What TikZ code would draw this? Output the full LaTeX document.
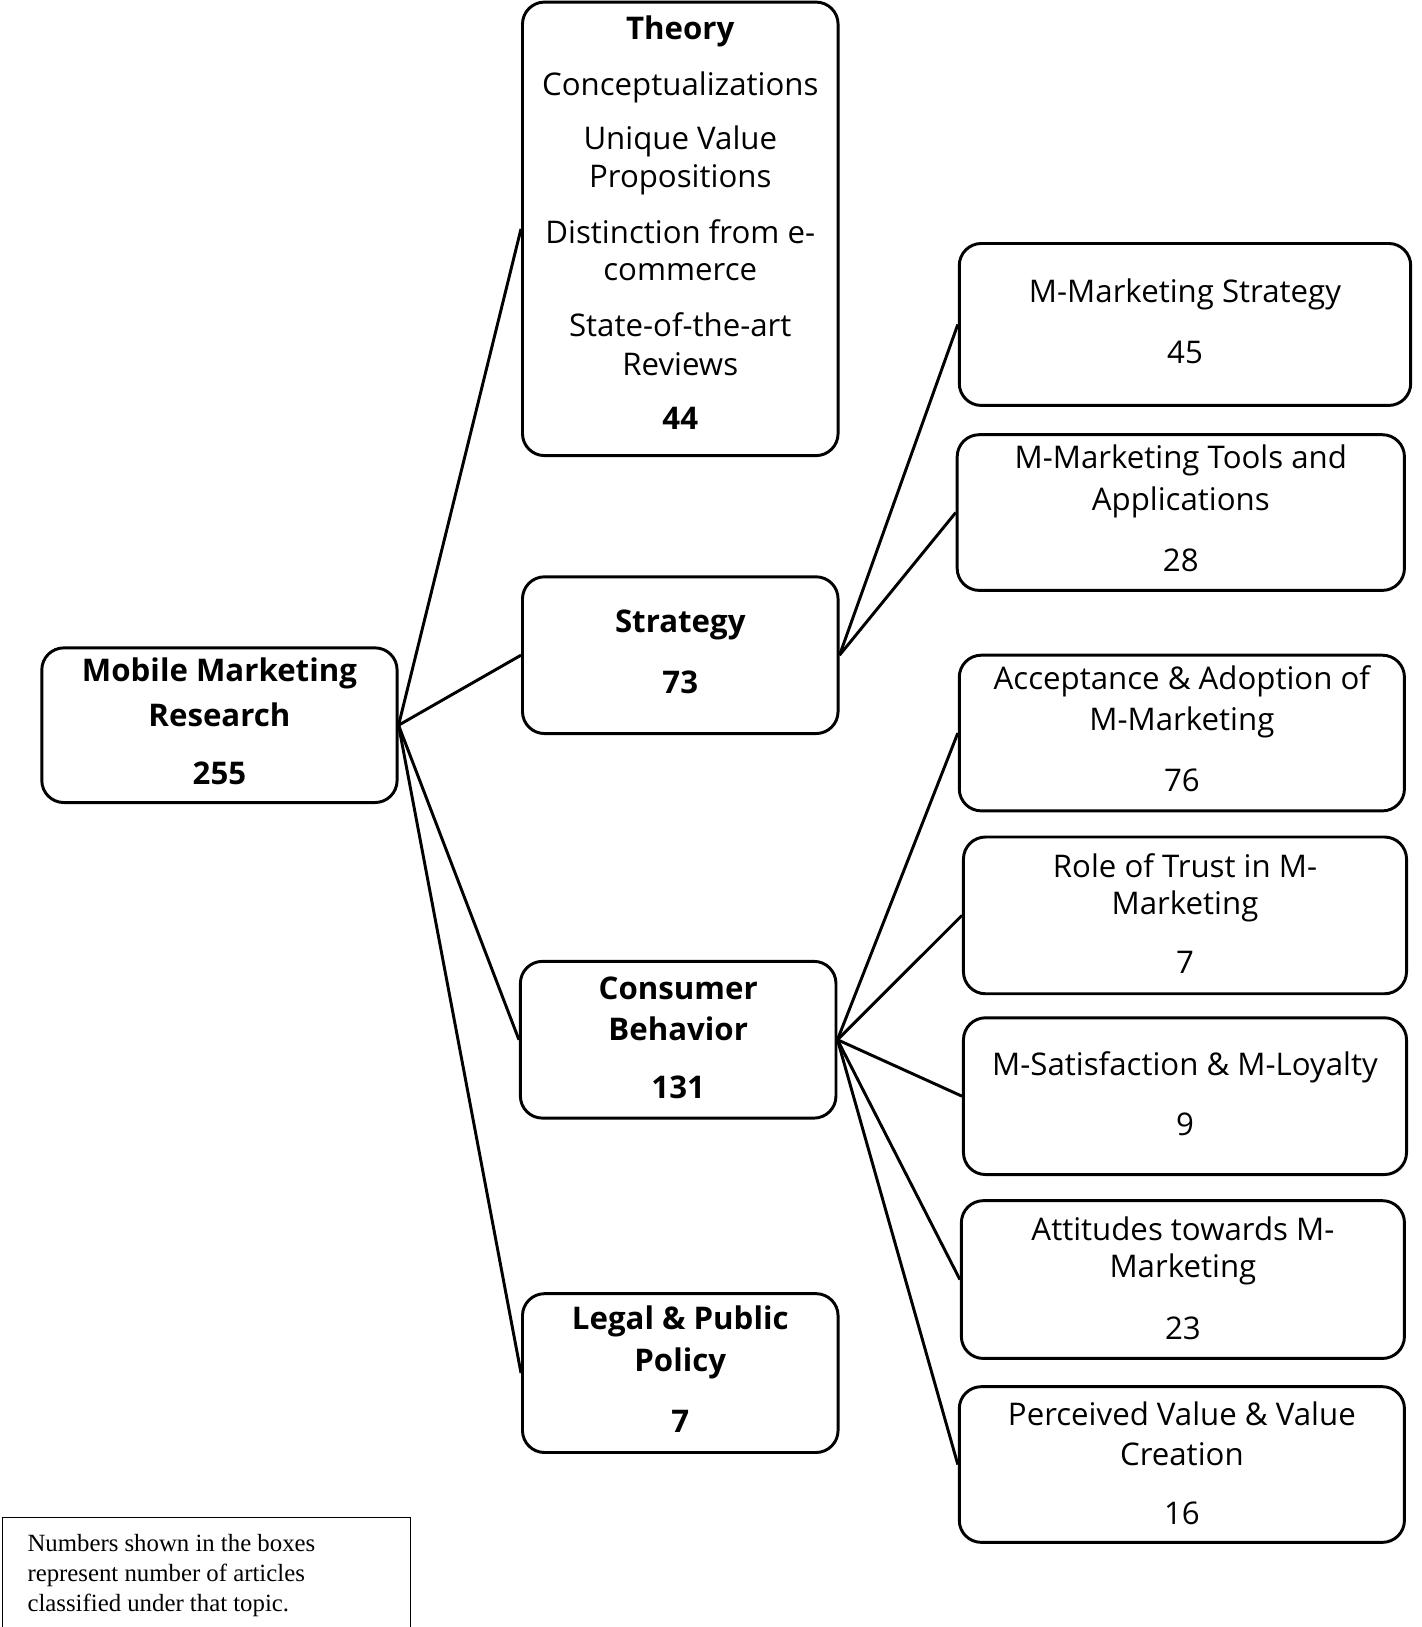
\documentclass[tikz,border=0pt]{standalone}
\usepackage{fontspec}
\setmainfont{Open Sans}
\newfontfamily\legendfont{Liberation Serif}
\usetikzlibrary{fit}
\begin{document}
\begin{tikzpicture}[x=0.02cm,y=-0.02cm,
  box/.style={draw,line width=1.6pt,rounded corners=12pt,inner sep=0pt},
  txt/.style={inner sep=0pt,font=\fontsize{17}{20}\selectfont},
  btxt/.style={txt,font=\fontsize{17}{20}\selectfont\bfseries},
  link/.style={line width=1.6pt}]
\useasboundingbox (0,0) rectangle (1360,1557);

% left and middle column
\node[box,fit={(40,620)(380,768)}] (mob) {};
\node[btxt] (mob1) at (210,644) {Mobile Marketing};
\node[btxt] (mob2) at (210,684) {Research};
\node[btxt] (mob3) at (210,740) {255};

\node[box,fit={(500,2)(802,436)}] (the) {};
\node[btxt] (the1) at (651,30) {Theory};
\node[txt] (the2) at (651,84) {Conceptualizations};
\node[txt] (the3) at (651,135) {Unique Value};
\node[txt] (the4) at (651,172) {Propositions};
\node[txt] (the5) at (651,222) {Distinction from e-};
\node[txt] (the6) at (651,260) {commerce};
\node[txt] (the7) at (651,311) {State-of-the-art};
\node[txt] (the8) at (651,349) {Reviews};
\node[btxt] (the9) at (651,400) {44};

\node[box,fit={(500,552)(802,702)}] (str) {};
\node[btxt] (str1) at (651,598) {Strategy};
\node[btxt] (str2) at (651,653) {73};

\node[box,fit={(498,920)(800,1070)}] (con) {};
\node[btxt] (con1) at (649,946) {Consumer};
\node[btxt] (con2) at (649,985) {Behavior};
\node[btxt] (con3) at (649,1041) {131};

\node[box,fit={(500,1238)(802,1390)}] (leg) {};
\node[btxt] (leg1) at (651,1265) {Legal \& Public};
\node[btxt] (leg2) at (651,1305) {Policy};
\node[btxt] (leg3) at (651,1360) {7};

% right column
\node[box,fit={(918,233)(1350,388)}] (mms) {};
\node[txt] (mms1) at (1134,282) {M-Marketing Strategy};
\node[txt] (mms2) at (1134,337) {45};

\node[box,fit={(916,416)(1344,565)}] (too) {};
\node[txt] (too1) at (1130,441) {M-Marketing Tools and};
\node[txt] (too2) at (1130,481) {Applications};
\node[txt] (too3) at (1130,536) {28};

\node[box,fit={(918,627)(1344,776)}] (acc) {};
\node[txt] (acc1) at (1131,652) {Acceptance \& Adoption of};
\node[txt] (acc2) at (1131,691) {M-Marketing};
\node[txt] (acc3) at (1131,747) {76};

\node[box,fit={(922,801)(1346,951)}] (tru) {};
\node[txt] (tru1) at (1134,828) {Role of Trust in M-};
\node[txt] (tru2) at (1134,867) {Marketing};
\node[txt] (tru3) at (1134,921) {7};

\node[box,fit={(922,974)(1346,1124)}] (sat) {};
\node[txt] (sat1) at (1134,1021) {M-Satisfaction \& M-Loyalty};
\node[txt] (sat2) at (1134,1076) {9};

\node[box,fit={(920,1149)(1344,1300)}] (att) {};
\node[txt] (att1) at (1132,1176) {Attitudes towards M-};
\node[txt] (att2) at (1132,1215) {Marketing};
\node[txt] (att3) at (1132,1271) {23};

\node[box,fit={(918,1327)(1344,1476)}] (per) {};
\node[txt] (per1) at (1131,1353) {Perceived Value \& Value};
\node[txt] (per2) at (1131,1392) {Creation};
\node[txt] (per3) at (1131,1448) {16};

% legend
\node[draw,line width=0.6pt,fit={(2,1452)(393,1570)},inner sep=0pt] (key) {};
\node[anchor=north west,inner sep=0pt,align=left,
  font=\legendfont\fontsize{13.5}{16.2}\selectfont] (keytxt) at (26,1468)
  {Numbers shown in the boxes\\represent number of articles\\classified under that topic.};

% connectors
\draw[link] (mob.east) -- (the.west);
\draw[link] (mob.east) -- (str.west);
\draw[link] (mob.east) -- (con.west);
\draw[link] (mob.east) -- (leg.west);
\draw[link] (str.east) -- (mms.west);
\draw[link] (str.east) -- (too.west);
\draw[link] (con.east) -- (acc.west);
\draw[link] (con.east) -- (tru.west);
\draw[link] (con.east) -- (sat.west);
\draw[link] (con.east) -- (att.west);
\draw[link] (con.east) -- (per.west);
\end{tikzpicture}
\end{document}
